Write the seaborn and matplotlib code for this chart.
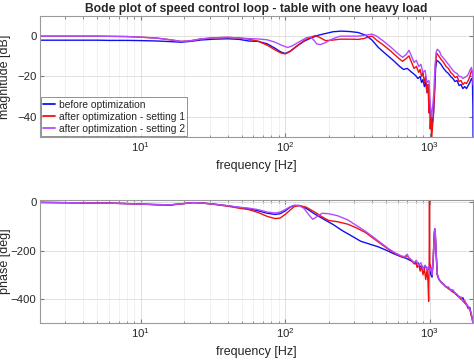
import matplotlib
matplotlib.use("Agg")
import matplotlib.pyplot as plt
import numpy as np
import pandas as pd
import seaborn as sns
from matplotlib.ticker import LogLocator, NullFormatter

SERIES = ["before optimization", "after optimization - setting 1", "after optimization - setting 2"]
COLORS = {SERIES[0]: "#1010f0", SERIES[1]: "#f01010", SERIES[2]: "#b04cff"}

# magnitude [dB]
mag_before_f = [2, 3, 5, 6, 8, 10, 13, 16, 19, 22, 26, 32, 40, 48, 56, 65, 75, 85, 93, 100, 108, 120, 135, 150,
                170, 190, 215, 245, 280, 320, 360, 400, 440, 500, 560, 620, 660, 700, 740, 770, 800, 830, 860,
                880, 900, 920, 940, 960, 980, 1000, 1020, 1040, 1060, 1080, 1100, 1120, 1150, 1200, 1250, 1300,
                1350, 1400, 1450, 1500, 1550, 1600, 1650, 1700, 1750, 1800, 1850, 1900, 1950, 1980, 1995, 2000]
mag_before = [-2.0, -2.0, -2.0, -2.1, -2.1, -2.2, -2.4, -2.7, -3.0, -2.6, -1.9, -1.5, -1.3, -1.6, -2.4, -2.6,
              -3.8, -6.0, -7.8, -8.6, -7.5, -5.0, -2.5, -1.0, 0.5, 1.3, 2.2, 2.5, 2.3, 1.8, 0.5, -2.0, -5.5,
              -9.0, -12.0, -15.0, -16.5, -16.0, -17.5, -18.5, -19.5, -21.0, -20.0, -23.0, -21.5, -25.0, -23.0,
              -28.0, -26.0, -33.0, -38.0, -44.0, -40.0, -30.0, -16.0, -12.0, -12.5, -14.0, -16.0, -17.5, -18.5,
              -20.0, -21.0, -22.5, -22.0, -24.5, -24.0, -26.0, -25.0, -26.0, -24.5, -23.0, -21.0, -22.0, -35.0,
              -50.0]

mag_set1_f = [2, 5, 8, 10, 13, 16, 19, 22, 26, 32, 40, 48, 56, 65, 75, 85, 93, 100, 108, 120, 135, 150, 162,
              175, 190, 210, 240, 280, 320, 350, 380, 400, 430, 480, 540, 600, 650, 690, 720, 750, 780, 810,
              840, 860, 880, 900, 920, 940, 960, 975, 990, 1000, 1010, 1020, 1035, 1050, 1065, 1080, 1100,
              1120, 1150, 1200, 1250, 1300, 1350, 1400, 1450, 1500, 1550, 1600, 1650, 1700, 1750, 1800, 1850,
              1900, 1950, 1980, 2000]
mag_set1 = [0.0, 0.0, -0.2, -0.5, -1.0, -1.8, -2.6, -2.3, -1.4, -0.8, -0.6, -0.9, -1.5, -2.5, -4.5, -6.8, -8.3,
            -8.8, -7.6, -5.0, -2.2, -0.5, 0.3, -0.8, -2.2, -2.0, -1.5, -1.5, -1.6, -1.2, -0.3, 0.0, -2.0, -4.5,
            -7.5, -10.5, -12.5, -11.0, -9.8, -13.0, -16.0, -15.0, -18.0, -16.5, -20.0, -18.0, -23.0, -20.0,
            -28.0, -24.0, -38.0, -32.0, -46.0, -40.0, -50.0, -44.0, -38.0, -28.0, -14.0, -8.5, -9.5, -11.5,
            -13.0, -15.0, -16.0, -18.0, -19.0, -20.5, -20.0, -22.5, -22.0, -24.0, -23.0, -23.5, -22.0, -20.0,
            -17.0, -18.0, -20.0]

mag_set2_f = [2, 5, 8, 10, 13, 16, 19, 22, 26, 32, 40, 48, 56, 65, 75, 85, 95, 104, 112, 125, 140, 150, 158,
              165, 175, 190, 210, 240, 280, 320, 360, 400, 430, 480, 540, 600, 650, 690, 720, 750, 780, 810,
              840, 870, 900, 930, 960, 990, 1010, 1030, 1050, 1070, 1090, 1110, 1130, 1170, 1200, 1250, 1300,
              1350, 1400, 1450, 1500, 1550, 1600, 1650, 1700, 1750, 1800, 1850, 1900, 1950, 1980, 2000]
mag_set2 = [0.0, 0.0, -0.2, -0.5, -1.0, -1.8, -2.6, -2.3, -1.4, -0.8, -0.6, -0.9, -1.2, -1.4, -1.8, -3.0, -4.6,
            -5.6, -4.8, -2.8, -0.8, -0.4, -2.0, -3.8, -4.2, -3.2, -1.5, 0.0, 0.0, 0.0, 0.5, 1.0, 0.0, -2.5,
            -5.5, -8.5, -10.5, -9.0, -7.0, -10.0, -13.0, -12.0, -15.0, -14.0, -18.0, -17.0, -23.0, -22.0,
            -33.0, -40.0, -35.0, -28.0, -15.0, -8.0, -6.5, -7.5, -9.5, -11.0, -12.5, -14.0, -15.5, -17.0,
            -18.0, -18.5, -20.0, -20.0, -21.0, -20.5, -20.0, -19.0, -17.0, -15.5, -18.0, -24.0]

# phase [deg]
ph_before_f = [2, 4, 6, 8, 10, 13, 16, 19, 23, 26, 32, 40, 48, 56, 65, 75, 85, 92, 100, 108, 115, 125, 140,
               160, 185, 215, 250, 290, 333, 380, 440, 500, 560, 640, 690, 720, 760, 800, 830, 860, 880, 910,
               940, 970, 1000, 1020, 1040, 1060, 1075, 1085, 1095, 1110, 1130, 1160, 1200, 1250, 1300, 1350,
               1400, 1450, 1500, 1550, 1600, 1650, 1700, 1750, 1800, 1850, 1900, 1950, 1980, 2000]
ph_before = [0, -2, -3, -5, -7, -10, -11, -6, -1, -2, -7, -14, -21, -26, -35, -45, -50, -47, -35, -20, -13,
             -13, -25, -48, -70, -92, -118, -140, -161, -172, -184, -198, -212, -226, -232, -238, -245, -255,
             -250, -268, -262, -275, -265, -280, -270, -300, -310, -240, -140, -110, -130, -210, -300, -320,
             -330, -340, -350, -355, -362, -368, -375, -385, -390, -400, -395, -415, -420, -440, -435, -470,
             -480, -500]

ph_set1_f = [2, 4, 6, 8, 10, 13, 16, 19, 23, 26, 32, 40, 48, 56, 65, 75, 85, 92, 100, 108, 115, 125, 140, 160,
             180, 200, 230, 270, 310, 360, 410, 460, 520, 580, 640, 670, 700, 720, 750, 780, 800, 820, 840, 860,
             880, 900, 920, 940, 960, 975, 985, 993, 998, 1003, 1020, 1040, 1060, 1075, 1085, 1095, 1110, 1130,
             1160, 1200, 1300, 1400, 1500, 1600, 1700, 1800, 1900, 2000]
ph_set1 = [0, -2, -3, -5, -7, -9, -10, -6, -1, -2, -8, -16, -24, -30, -42, -58, -67, -65, -50, -32, -18, -13,
           -20, -40, -60, -75, -80, -90, -105, -125, -150, -172, -195, -212, -225, -228, -220, -232, -240, -255,
           -245, -270, -255, -285, -265, -300, -275, -320, -280, -330, -410, -250, 20, -250, -270, -300, -230,
           -140, -115, -135, -210, -300, -318, -330, -350, -365, -378, -392, -408, -425, -445, -500]

ph_set2_f = [2, 4, 6, 8, 10, 13, 16, 19, 23, 26, 32, 40, 48, 56, 65, 75, 85, 92, 100, 108, 115, 125, 135, 145,
             155, 165, 180, 200, 230, 270, 310, 360, 410, 460, 520, 580, 640, 670, 700, 720, 750, 780, 810, 840,
             870, 900, 930, 960, 985, 1000, 1020, 1040, 1060, 1075, 1085, 1095, 1110, 1130, 1160, 1200, 1250,
             1300, 1350, 1400, 1450, 1500, 1550, 1600, 1650, 1700, 1750, 1800, 1850, 1900, 1950, 1980, 2000]
ph_set2 = [0, -2, -3, -5, -7, -9, -10, -6, -1, -2, -7, -14, -20, -24, -30, -40, -44, -40, -30, -18, -12, -13,
           -25, -50, -70, -60, -45, -47, -55, -72, -95, -120, -145, -168, -192, -210, -222, -225, -215, -230,
           -238, -250, -240, -262, -250, -275, -260, -280, -265, -285, -275, -300, -230, -140, -108, -128,
           -205, -295, -318, -330, -338, -352, -350, -365, -362, -378, -380, -395, -392, -410, -405, -425,
           -430, -445, -460, -490, -500]


def to_frame(pairs):
    parts = [pd.DataFrame({"freq": f, "value": v, "series": name}) for name, f, v in pairs]
    return pd.concat(parts, ignore_index=True)


mag_df = to_frame([(SERIES[0], mag_before_f, mag_before),
                   (SERIES[1], mag_set1_f, mag_set1),
                   (SERIES[2], mag_set2_f, mag_set2)])
ph_df = to_frame([(SERIES[0], ph_before_f, ph_before),
                  (SERIES[1], ph_set1_f, ph_set1),
                  (SERIES[2], ph_set2_f, ph_set2)])

sns.set_style("ticks")
plt.rcParams["font.family"] = ["Liberation Sans", "DejaVu Sans"]
plt.rcParams["font.size"] = 8

fig = plt.figure(figsize=(4.74, 3.61), dpi=100)
ax1 = fig.add_axes([0.0844, 0.6205, 0.9136, 0.3352])
ax2 = fig.add_axes([0.0844, 0.1053, 0.9136, 0.3407])


def style_axis(ax, ylim, yticks, ylabel):
    ax.set_xscale("log")
    ax.set_xlim(2, 2000)
    ax.set_ylim(*ylim)
    ax.set_yticks(yticks)
    ax.xaxis.set_minor_locator(LogLocator(base=10, subs=np.arange(2, 10), numticks=20))
    ax.xaxis.set_minor_formatter(NullFormatter())
    ax.grid(True, which="major", color="#dcdcdc", linewidth=0.6)
    ax.grid(True, which="minor", axis="x", color="#ececec", linewidth=0.5)
    ax.set_axisbelow(True)
    ax.tick_params(which="both", direction="in", top=True, right=True, colors="#7a7a7a",
                   labelcolor="#262626", labelsize=8.2, length=3, pad=2.5)
    ax.tick_params(which="minor", length=1.8)
    for s in ax.spines.values():
        s.set_color("#9a9a9a")
        s.set_linewidth(0.8)
    ax.set_xlabel("frequency [Hz]", fontsize=9, color="#262626", labelpad=4)
    ax.set_ylabel(ylabel, fontsize=9, color="#262626")
    ax.yaxis.set_label_coords(-0.066, 0.5)


sns.lineplot(data=mag_df, x="freq", y="value", hue="series", hue_order=SERIES, palette=COLORS,
             estimator=None, linewidth=1.0, ax=ax1)
sns.lineplot(data=ph_df, x="freq", y="value", hue="series", hue_order=SERIES, palette=COLORS,
             estimator=None, linewidth=1.0, ax=ax2, legend=False)

style_axis(ax1, (-50, 10), [-40, -20, 0], "magnitude [dB]")
style_axis(ax2, (-500, 10), [-400, -200, 0], "phase [deg]")

ax1.set_title("Bode plot of speed control loop - table with one heavy load", fontsize=8.7,
              fontweight="bold", pad=3)

leg = ax1.legend(loc="lower left", fontsize=7.4, frameon=True, fancybox=False, borderaxespad=0.05,
                 handlelength=1.2, handletextpad=0.3, borderpad=0.25, labelspacing=0.2)
leg.get_frame().set_edgecolor("#606060")
leg.get_frame().set_linewidth(0.6)
for line in leg.get_lines():
    line.set_linewidth(1.3)

fig.savefig("out.png", dpi=100)
